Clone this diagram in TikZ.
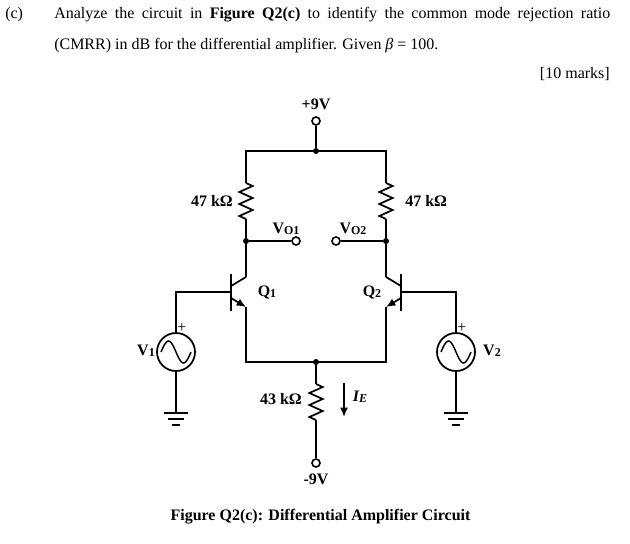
\documentclass[tikz,border=0pt]{standalone}
\usepackage{fontspec}
\setmainfont{Liberation Serif}
\usepackage{tikz}
\usetikzlibrary{arrows.meta,decorations.pathmorphing}

\newcommand{\bodyfont}{\fontsize{12}{14}\selectfont}
\newcommand{\lowtxt}[1]{\raisebox{-0.8pt}{\fontsize{9}{9}\selectfont #1}}

\tikzset{
	wire/.style={line width=1.3pt},
	res/.style={wire, decorate, decoration={zigzag, segment length=9pt, amplitude=5pt}},
	dot/.style={circle, fill=black, inner sep=0pt, minimum size=4.5pt},
	terminal/.style={circle, draw, line width=1.2pt, fill=white, inner sep=0pt, minimum size=6pt},
	source/.style={circle, draw, line width=1.3pt, inner sep=0pt, minimum size=28.5pt},
	lbl/.style={font=\bodyfont\bfseries, inner sep=0pt},
	para/.style={font=\bodyfont, anchor=base west, inner sep=0pt}
}

\begin{document}
\begin{tikzpicture}[x=0.75pt, y=-0.75pt]
		\useasboundingbox (0,0) rectangle (630,543);

		% Question text
		\node[para] (qno) at (5,18) {(c)};
		\node[para] (lineone) at (54,18) {\makebox[417pt][s]{Analyze the circuit in \textbf{Figure Q2(c)} to identify the common mode rejection ratio}};
		\node[para] (linetwo) at (54,49) {(CMRR) in dB for the differential amplifier. Given \textit{β} = 100.};
		\node[para, anchor=base east] (marks) at (610,78) {[10 marks]};

		% Supply terminals and junctions
		\node[terminal] (vcc) at (316,121) {};
		\node[dot] (topj) at (316,151) {};
		\coordinate (topl) at (246,151);
		\coordinate (topr) at (386,151);
		\node[dot] (botj) at (316,362) {};
		\coordinate (botl) at (246,362);
		\coordinate (botr) at (386,362);
		\node[terminal] (vee) at (316,463) {};

		% Ends of the resistors
		\coordinate (raa) at (246,183);
		\coordinate (rab) at (246,219);
		\coordinate (rba) at (386,183);
		\coordinate (rbb) at (386,219);
		\coordinate (rea) at (316,384);
		\coordinate (reb) at (316,420);

		% Outputs
		\node[dot] (oa) at (246,241) {};
		\node[dot] (ob) at (386,241) {};
		\node[terminal] (voa) at (296,241) {};
		\node[terminal] (vob) at (336,241) {};

		% Transistor pins
		\coordinate (qab) at (231,292);
		\coordinate (qac) at (246,277);
		\coordinate (qae) at (246,307);
		\coordinate (qbb) at (401,292);
		\coordinate (qbc) at (386,277);
		\coordinate (qbe) at (386,307);

		% Sources and grounds
		\node[source] (vsa) at (176,352) {};
		\node[source] (vsb) at (456,352) {};
		\coordinate (gnda) at (176,413);
		\coordinate (gndb) at (456,413);

		% Draw the rails
		\draw[wire] (vcc) -- (topj);
		\draw[wire] (raa) -- (topl) -- (topr) -- (rba);
		\draw[wire] (qae) -- (botl) -- (botr) -- (qbe);
		\draw[wire] (botj) -- (rea);
		\draw[wire] (reb) -- (vee);

		% Draw the resistors
		\draw[res] (raa) -- (rab);
		\draw[res] (rba) -- (rbb);
		\draw[res] (rea) -- (reb);

		% Draw the collector branches
		\draw[wire] (rab) -- (oa) -- (qac);
		\draw[wire] (rbb) -- (ob) -- (qbc);
		\draw[wire] (oa) -- (voa);
		\draw[wire] (ob) -- (vob);

		% Draw the transistors
		\draw[wire] (231,274) -- (231,311);
		\draw[wire] (401,274) -- (401,311);
		\draw[wire] (231,286) -- (qac);
		\draw[wire] (401,286) -- (qbc);
		\draw[wire, -{Latex[length=7pt,width=6pt]}] (231,298) -- (qae);
		\draw[wire, -{Latex[length=7pt,width=6pt]}] (401,298) -- (qbe);

		% Base wires
		\draw[wire] (qab) -| (vsa.north);
		\draw[wire] (qbb) -| (vsb.north);

		% Sine waves in the sources
		\foreach \s in {vsa,vsb}
			\draw[line width=1.1pt, shift={(\s.center)}, domain=-15:15, samples=25, smooth] plot (\x, {11*sin(12*\x)});

		% Grounds
		\draw[wire] (vsa.south) -- (gnda);
		\draw[wire] (vsb.south) -- (gndb);
		\foreach \g in {gnda,gndb} {
			\draw[wire] (\g) ++(-12,0) -- ++(24,0);
			\draw[wire] (\g) ++(-8,6) -- ++(16,0);
			\draw[wire] (\g) ++(-4,12) -- ++(8,0);
		}

		% Current arrow
		\coordinate (ia) at (344,383);
		\coordinate (ib) at (344,417);
		\draw[wire, -{Latex[length=7pt,width=6pt]}] (ia) -- (ib);

		% Labels
		\node[lbl] (vcctxt) at (316,104) {+9V};
		\node[lbl] (veetxt) at (316,479) {-9V};
		\node[lbl, anchor=east] (ratxt) at (233,201) {47 kΩ};
		\node[lbl, anchor=west] (rbtxt) at (405,201) {47 kΩ};
		\node[lbl, anchor=east] (retxt) at (302,399) {43 kΩ};
		\node[lbl] (voatxt) at (286,229) {V\lowtxt{O1}};
		\node[lbl] (vobtxt) at (353,229) {V\lowtxt{O2}};
		\node[lbl] (qatxt) at (267,292) {Q\lowtxt{1}};
		\node[lbl] (qbtxt) at (372,292) {Q\lowtxt{2}};
		\node[lbl] (vatxt) at (146,351) {V\lowtxt{1}};
		\node[lbl] (vbtxt) at (492,351) {V\lowtxt{2}};
		\node[lbl] (ietxt) at (360,397) {\textit{I\lowtxt{E}}};
		\node[inner sep=0pt, font=\bodyfont] (pa) at (182,328) {+};
		\node[inner sep=0pt, font=\bodyfont] (pb) at (462,328) {+};

		% Caption
		\node[lbl] (cap) at (320.5,517) {Figure Q2(c): Differential Amplifier Circuit};
\end{tikzpicture}
\end{document}
